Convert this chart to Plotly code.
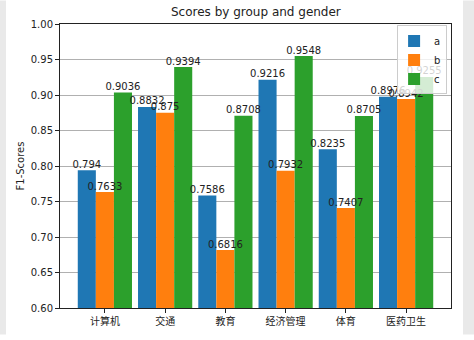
import plotly.graph_objects as go

categories = ["计算机", "交通", "教育", "经济管理", "体育", "医药卫生"]
series_names = ["a", "b", "c"]
a_vals = [0.794, 0.8832, 0.7586, 0.9216, 0.8235, 0.8976]
b_vals = [0.7633, 0.875, 0.6816, 0.7932, 0.7407, 0.8942]
c_vals = [0.9036, 0.9394, 0.8708, 0.9548, 0.8705, 0.9255]
y_ticks = [0.60, 0.65, 0.70, 0.75, 0.80, 0.85, 0.90, 0.95, 1.00]

colors = ["#1f77b4", "#ff7f0e", "#2ca02c"]
offsets = [-0.3, 0.0, 0.3]
width = 0.3
font = "DejaVu Sans, Verdana, sans-serif"

W, H = 474, 340
ml, mr, mt, mb = 60, 23, 24, 27
pw, ph = W - ml - mr, H - mt - mb

fig = go.Figure()
idx = list(range(len(categories)))
all_vals = [a_vals, b_vals, c_vals]
for name, vals, col, off in zip(series_names, all_vals, colors, offsets):
    xs = [i + off for i in idx]
    fig.add_trace(go.Bar(x=xs, y=vals, width=width, name=name,
                         marker=dict(color=col, line=dict(width=0)),
                         base=0))

# value labels (scatter text layer sits above all bars, below the legend)
for vals, off in zip(all_vals, offsets):
    xs = [i + off for i in idx]
    fig.add_trace(go.Scatter(x=xs, y=vals, mode="text", text=[str(v) for v in vals],
                             textposition="top center", showlegend=False, hoverinfo="skip",
                             cliponaxis=False,
                             textfont=dict(family=font, size=10, color="#222")))

annotations = [dict(text="Scores by group and gender", x=0.5, y=1, xref="paper", yref="paper",
                    yanchor="bottom", yshift=3, showarrow=False,
                    font=dict(family=font, size=12, color="#222"))]

shapes = [
    dict(type="rect", xref="paper", yref="paper",
         x0=(0 - ml) / pw, x1=(6 - ml) / pw, y0=-mb / ph, y1=(ph + mt) / ph,
         fillcolor="#e9e9e9", line=dict(width=0), layer="above"),
    dict(type="rect", xref="paper", yref="paper",
         x0=(463 - ml) / pw, x1=(W - ml) / pw, y0=-mb / ph, y1=(ph + mt) / ph,
         fillcolor="#e9e9e9", line=dict(width=0), layer="above"),
]

fig.update_layout(
    width=W, height=H,
    margin=dict(l=ml, r=mr, t=mt, b=mb),
    paper_bgcolor="white", plot_bgcolor="white",
    barmode="overlay",
    font=dict(family=font, size=10, color="#222"),
    annotations=annotations,
    shapes=shapes,
    legend=dict(x=0.99, y=0.995, xanchor="right", yanchor="top",
                bgcolor="rgba(255,255,255,0.8)", bordercolor="#cccccc", borderwidth=1,
                font=dict(family=font, size=10), itemwidth=30, indentation=-4,
                tracegroupgap=0),
    showlegend=True,
)
fig.update_xaxes(range=[-0.745, 5.745], tickvals=idx, ticktext=categories,
                 showline=True, linecolor="#222", linewidth=1, mirror=True,
                 ticks="outside", ticklen=4, tickcolor="#222", showgrid=False,
                 zeroline=False, tickfont=dict(family="Noto Sans CJK SC", size=10))
fig.update_yaxes(range=[0.6, 1.0], tickvals=y_ticks, tickformat=".2f",
                 showline=True, linecolor="#222", linewidth=1, mirror=True,
                 ticks="outside", ticklen=4, tickcolor="#222",
                 showgrid=True, gridcolor="#b0b0b0", gridwidth=1, zeroline=False,
                 title=dict(text="F1-Scores", font=dict(family=font, size=10), standoff=4))

fig.write_html("out.html")
